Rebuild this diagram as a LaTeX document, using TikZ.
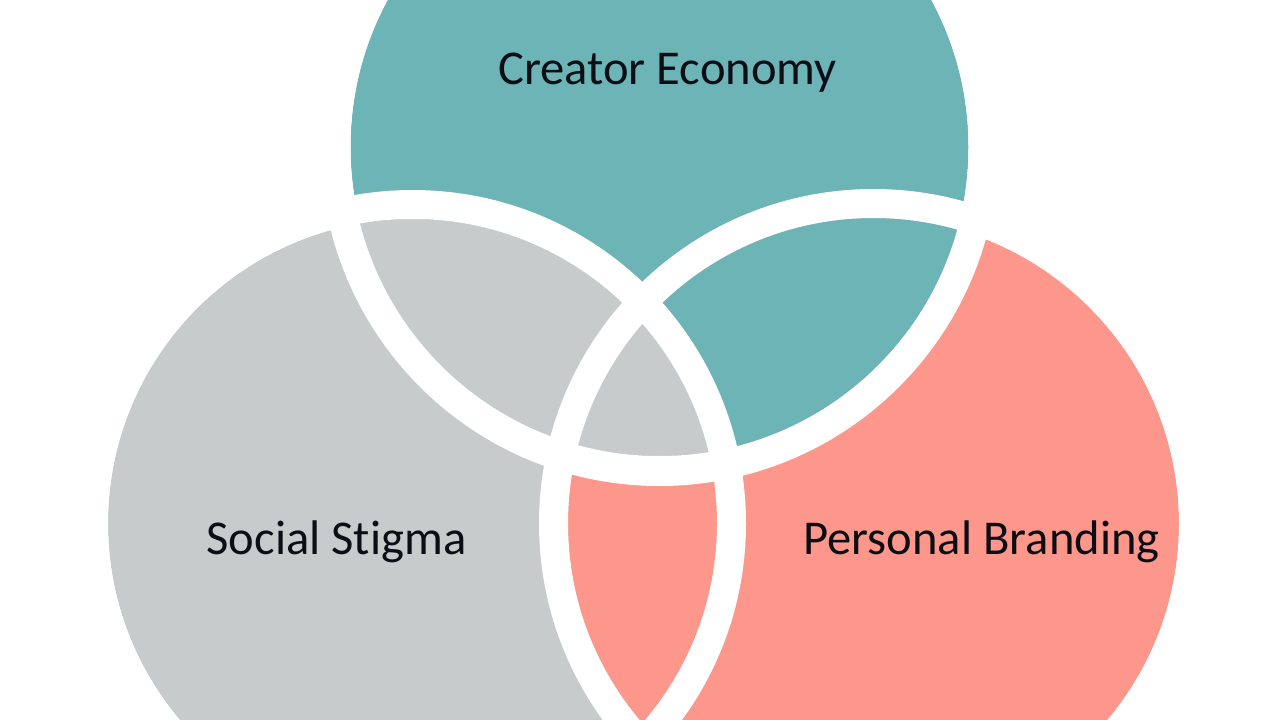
\documentclass[tikz,border=0pt]{standalone}
\usepackage{fontspec}
\setmainfont{Carlito}[Ligatures=NoCommon]
\definecolor{tealc}{HTML}{6CB4B6}
\definecolor{grayc}{HTML}{C8CBCB}
\definecolor{salmonc}{HTML}{FD968B}
\definecolor{inkc}{HTML}{0C0E16}
\tikzset{
  lbl/.style={font=\fontsize{48.6pt}{52pt}\selectfont, text=inkc, inner sep=0pt, anchor=base},
  ring/.style={draw=white, line width=29pt},
  ringb/.style={draw=white, line width=30pt}
}
\begin{document}
\begin{tikzpicture}[x=1pt,y=-1pt]
\useasboundingbox (0,0) rectangle (1280,720);
\clip (0,0) rectangle (1280,720);
\def\Tc{(659.5,147)}\def\Lc{(412.5,523.5)}\def\Rc{(873.5,523.5)}
\def\Tr{309}\def\Lr{304.5}\def\Rr{305.5}
\fill[grayc] \Lc circle[radius=\Lr];
\fill[tealc] \Tc circle[radius=\Tr];
\fill[salmonc] \Rc circle[radius=\Rr];
\begin{scope}
  \clip \Tc circle[radius=\Tr];
  \fill[tealc] \Rc circle[radius=\Rr];
  \fill[grayc] \Lc circle[radius=\Lr];
\end{scope}
\draw[ringb] \Tc circle[radius=\Tr+15];
\draw[ring] \Lc circle[radius=\Lr+14.5];
\draw[ring] \Rc circle[radius=\Rr+14.5];
\node[lbl] (creator) at (667.5,84) {Creator Economy};
\node[lbl] (social) at (336.5,554) {Social Stigma};
\node[lbl] (personal) at (981.5,554) {Personal Branding};
\end{tikzpicture}
\end{document}
